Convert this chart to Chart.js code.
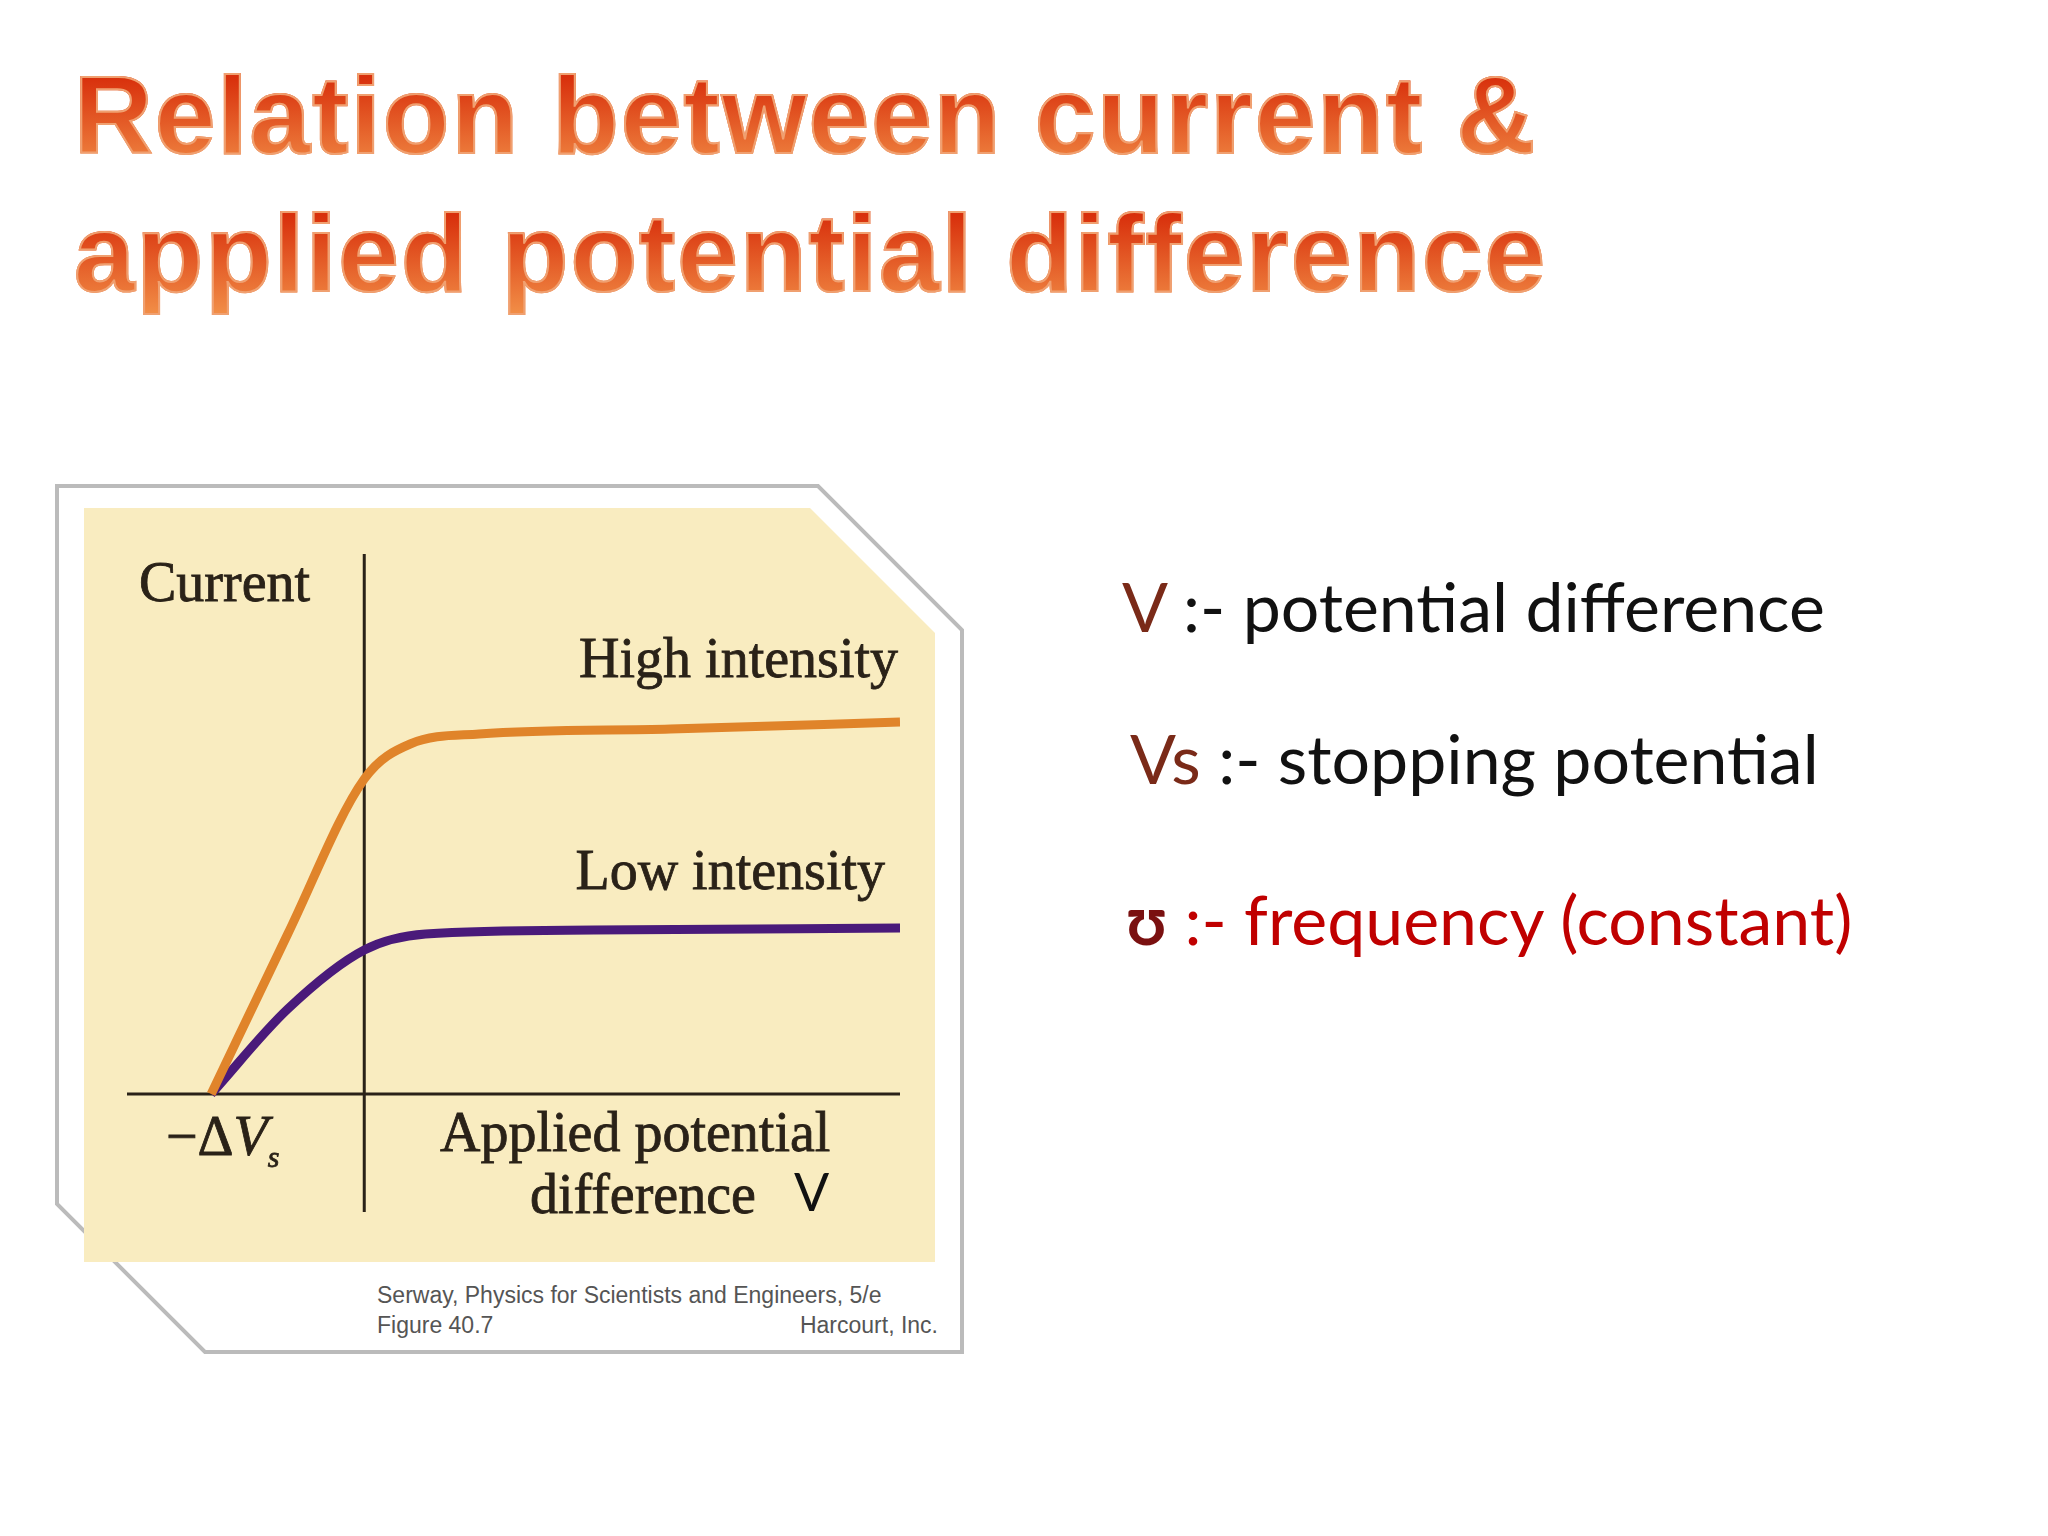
<!DOCTYPE html>
<html><head><meta charset="utf-8">
<script src="https://cdn.jsdelivr.net/npm/chart.js@4"></script>
<style>
body{margin:0;width:2048px;height:1536px;background:#fff;position:relative;overflow:hidden;font-family:"Liberation Sans",Arial,sans-serif}
.t{position:absolute;white-space:nowrap}
.title{left:74px;font-weight:bold;font-size:109px;background:linear-gradient(#d8300c 20%,#f29048);-webkit-background-clip:text;background-clip:text;color:transparent;-webkit-text-stroke:2px #f0a070;letter-spacing:2px}
.serif{font-family:"Liberation Serif","DejaVu Serif",serif;color:#2a2218;font-size:56px;-webkit-text-stroke:0.8px #2a2218}
.cal{font-family:Lato,"Open Sans",sans-serif;font-size:68px;color:#111}
.cite{font-family:"Liberation Sans",Arial,sans-serif;font-size:23px;color:#555}
</style></head><body>
<div class="t title" style="top:52px">Relation between current &amp;</div>
<div class="t title" style="top:190px">applied potential difference</div>
<svg style="position:absolute;left:0;top:0" width="2048" height="1536">
<polygon points="57,486 818,486 962,630 962,1352 205,1352 57,1204" fill="#fff" stroke="#bbb" stroke-width="4"/>
<polygon points="84,508 810,508 935,633 935,1262 84,1262" fill="#f9ecc0"/>
</svg>
<div style="position:absolute;left:127px;top:554px;width:773px;height:658px"><canvas id="c"></canvas></div>
<div class="t serif" style="left:139px;top:550px">Current</div>
<div class="t serif" style="right:1150px;top:626px">High intensity</div>
<div class="t serif" style="right:1163px;top:838px">Low intensity</div>
<div class="t serif" style="left:166px;top:1104px">−Δ<i>V</i><sub style="font-size:30px"><i>s</i></sub></div>
<div class="t serif" style="left:440px;top:1100px">Applied potential</div>
<div class="t serif" style="left:530px;top:1162px">difference</div>
<div class="t" style="left:794px;top:1160px;font-family:Lato,sans-serif;font-size:52px;color:#111">V</div>
<div class="t cite" style="left:377px;top:1282px">Serway, Physics for Scientists and Engineers, 5/e</div>
<div class="t cite" style="left:377px;top:1312px">Figure 40.7</div>
<div class="t cite" style="right:1110px;top:1312px">Harcourt, Inc.</div>
<div class="t cal" style="left:1122px;top:565px"><span style="color:#7a2a18">V</span> :- potential difference</div>
<div class="t cal" style="left:1130px;top:717px"><span style="color:#7a2a18">Vs</span> :- stopping potential</div>
<div class="t cal" style="left:1126px;top:878px;color:#c00000"><span style="color:#7a1010;font-weight:bold">ʊ</span> :- frequency (constant)</div>
<script>
const highX=[-1,-0.5,0,0.3,0.75,2,3.5];
const highY=[0,1.6,3.15,3.5,3.6,3.65,3.72];
const lowX=[-1,-0.5,0,0.4,1.5,3.5];
const lowY=[0,0.85,1.44,1.6,1.64,1.66];
const pts=(xs,ys)=>xs.map((x,i)=>({x,y:ys[i]}));
const axes={id:'axes',beforeDatasetsDraw(ch){const {ctx,chartArea:a,scales:{x,y}}=ch;ctx.save();ctx.strokeStyle='#2a2218';ctx.lineWidth=3;
ctx.beginPath();ctx.moveTo(x.getPixelForValue(0),a.top);ctx.lineTo(x.getPixelForValue(0),a.bottom);
ctx.moveTo(a.left,y.getPixelForValue(0));ctx.lineTo(a.right,y.getPixelForValue(0));ctx.stroke();ctx.restore();}};
new Chart(document.getElementById('c'),{type:'line',
data:{datasets:[
{data:pts(highX,highY),borderColor:'#e0842a',borderWidth:9,pointRadius:0,cubicInterpolationMode:'monotone'},
{data:pts(lowX,lowY),borderColor:'#4a1a7a',borderWidth:9,pointRadius:0,cubicInterpolationMode:'monotone'}]},
options:{responsive:true,maintainAspectRatio:false,animation:false,layout:{padding:0},
plugins:{legend:{display:false},tooltip:{enabled:false}},
scales:{x:{type:'linear',min:-1.55,max:3.5,display:false},y:{min:-1.18,max:5.4,display:false}}},
plugins:[axes]});
</script>
</body></html>
